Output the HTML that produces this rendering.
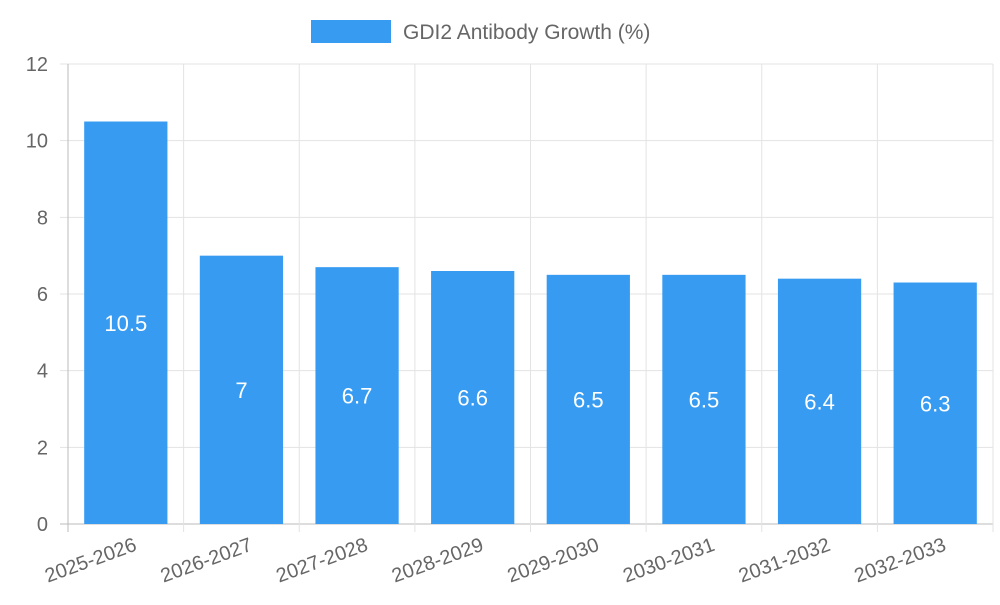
<!DOCTYPE html>
<html><head><meta charset="utf-8"><style>
body{margin:0;background:#fff;}
svg text{font-family:"Liberation Sans",sans-serif;}
</style></head><body>
<svg id="chart" width="1000" height="600" xmlns="http://www.w3.org/2000/svg">
<g>
<rect x="311" y="20" width="80" height="23" fill="#379cf1"/>
<text x="403" y="39" font-size="21" fill="#666">GDI2 Antibody Growth (%)</text>
</g>
<g id="grid"></g>
<g id="bars"></g>
<g id="axes"></g>
</svg>
<script>
const categories=["2025-2026","2026-2027","2027-2028","2028-2029","2029-2030","2030-2031","2031-2032","2032-2033"];
const values=[10.5,7,6.7,6.6,6.5,6.5,6.4,6.3];
const yTicks=[0,2,4,6,8,10,12];
const NS="http://www.w3.org/2000/svg";
const L=68,R=993,T=64,B=524,yMax=12;
const y=v=>B-(B-T)*v/yMax;
const band=(R-L)/categories.length;
const x=i=>L+band*i;
function mk(tag,attrs,parent){const e=document.createElementNS(NS,tag);for(const k in attrs)e.setAttribute(k,attrs[k]);parent.appendChild(e);return e;}
const grid=document.getElementById('grid'),bars=document.getElementById('bars'),axes=document.getElementById('axes');
yTicks.forEach(t=>{
 const g=mk('line',{x1:L-8,x2:R,y1:y(t),y2:y(t),stroke:t===0?'#bbb':'#e3e3e3','stroke-width':1},grid);
 
 
 const tx=mk('text',{x:L-20,y:y(t)+7,'font-size':20,fill:'#666','text-anchor':'end'},axes);
 tx.textContent=t;
 
 
});
for(let i=0;i<=categories.length;i++){
 const g=mk('line',{x1:x(i),x2:x(i),y1:T,y2:B+8,stroke:i===0?'#bbb':'#e3e3e3','stroke-width':1},grid);
 
 
}
categories.forEach((c,i)=>{
 const bw=band*0.72,bx=x(i)+(band-bw)/2,top=y(values[i]);
 const r=mk('rect',{x:bx,y:top,width:bw,height:B-top,fill:'#379cf1'},bars);
 
 
 const vt=mk('text',{x:bx+bw/2,y:(top+B)/2+8,'font-size':22,fill:'#fff','text-anchor':'middle'},bars);
 vt.textContent=values[i];
 
 
 const cx=x(i)+band/2+12,cy=B+26;
 const lt=mk('text',{x:cx,y:cy,'font-size':20,fill:'#666','text-anchor':'end',transform:`rotate(-20 ${cx} ${cy})`},axes);
 lt.textContent=c;
 
 
});
</script>
</body></html>
